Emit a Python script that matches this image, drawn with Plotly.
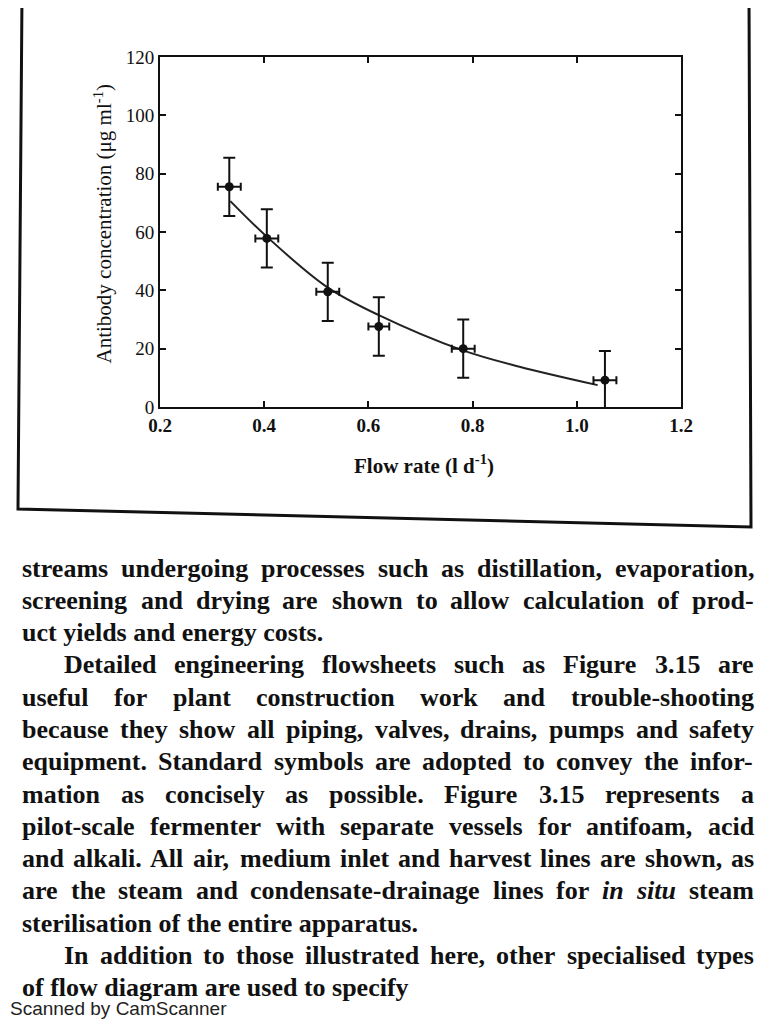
import plotly.graph_objects as go

# ---------------- data ----------------
flow_rate = [0.333, 0.405, 0.522, 0.620, 0.782, 1.054]          # l d-1
antibody = [75.5, 57.8, 39.5, 27.6, 20.0, 9.2]                  # ug ml-1
err_y = [10, 10, 10, 10, 10, 10]
err_x = [0.022, 0.022, 0.022, 0.020, 0.022, 0.022]

fit_x = [0.335, 0.405, 0.52, 0.62, 0.78, 0.89, 1.04]
fit_y = [70.6, 58.4, 41.2, 31.5, 19.5, 13.8, 7.5]

x_ticks = [0.2, 0.4, 0.6, 0.8, 1.0, 1.2]
x_ticktext = ["0.2", "0.4", "0.6", "0.8", "1.0", "1.2"]
y_ticks = [0, 20, 40, 60, 80, 100, 120]

body_lines = [
    "streams undergoing processes such as distillation, evaporation,",
    "screening and drying are shown to allow calculation of prod-",
    "uct yields and energy costs.",
    "Detailed engineering flowsheets such as Figure 3.15 are",
    "useful for plant construction work and trouble-shooting",
    "because they show all piping, valves, drains, pumps and safety",
    "equipment. Standard symbols are adopted to convey the infor-",
    "mation as concisely as possible. Figure 3.15 represents a",
    "pilot-scale fermenter with separate vessels for antifoam, acid",
    "and alkali. All air, medium inlet and harvest lines are shown, as",
    "are the steam and condensate-drainage lines for <i>in</i> <i>situ</i> steam",
    "sterilisation of the entire apparatus.",
    "In addition to those illustrated here, other specialised types",
    "of flow diagram are used to specify",
]
justified = [1, 1, 0, 1, 1, 1, 1, 1, 1, 1, 1, 0, 1, 0]
indented = [0, 0, 0, 1, 0, 0, 0, 0, 0, 0, 0, 0, 1, 0]

# ---------------- layout helpers (window pixel coordinates) ----------------
OFF = 8                                   # page body margin
WIN_W, WIN_H = 768, 1024
FIG_W, FIG_H = WIN_W - OFF, WIN_H - OFF
PL, PR, PT, PB = 160, 681, 57, 407        # plot area in window pixels


def px(xpix):
    return (xpix - PL) / (PR - PL)


def py(ypix):
    return (PB - ypix) / (PB - PT)


# Times-Bold advance widths (1/1000 em)
TW = {' ': 250, ',': 250, '.': 250, '-': 333, '(': 333, ')': 333,
      'a': 500, 'b': 556, 'c': 444, 'd': 556, 'e': 444, 'f': 333, 'g': 500,
      'h': 556, 'i': 278, 'j': 333, 'k': 556, 'l': 278, 'm': 833, 'n': 556,
      'o': 500, 'p': 556, 'q': 556, 'r': 444, 's': 389, 't': 333, 'u': 556,
      'v': 500, 'w': 722, 'x': 500, 'y': 500, 'z': 444,
      'A': 722, 'D': 722, 'F': 611, 'I': 389, 'S': 556}


def text_w(s, fs):
    s = s.replace('<i>', '').replace('</i>', '')
    return sum(TW.get(c, 500) for c in s) * fs / 1000.0


INK = '#111111'
fig = go.Figure()

fig.add_trace(go.Scatter(
    x=fit_x, y=fit_y, mode='lines',
    line=dict(color='#222222', width=2, shape='spline', smoothing=1.0),
    hoverinfo='skip', showlegend=False))

fig.add_trace(go.Scatter(
    x=flow_rate, y=antibody, mode='markers',
    marker=dict(color=INK, size=9, symbol='circle'),
    error_y=dict(type='data', array=err_y, color=INK, thickness=2, width=6),
    error_x=dict(type='data', array=err_x, color=INK, thickness=2, width=4),
    showlegend=False))

axis_common = dict(showgrid=False, zeroline=False, showline=True, linecolor=INK,
                   linewidth=2, mirror='ticks', ticks='inside', ticklen=6,
                   tickwidth=1.5, tickcolor=INK)

fig.update_xaxes(range=[0.2, 1.2], tickvals=x_ticks, ticktext=x_ticktext,
                 tickfont=dict(family='Liberation Serif', size=19, color=INK, weight='bold'),
                 **axis_common)
fig.update_yaxes(range=[0, 120], tickvals=y_ticks,
                 tickfont=dict(family='Liberation Serif', size=19, color=INK),
                 **axis_common)

annotations = []
annotations.append(dict(x=px(424), y=py(480), xref='paper', yref='paper',
                        text='Flow rate (l d<sup>-1</sup>)', showarrow=False,
                        font=dict(family='Liberation Serif', size=21, color=INK, weight='bold')))
annotations.append(dict(x=px(88), y=py(224), xref='paper', yref='paper',
                        text='Antibody concentration (\u03bcg ml<sup>-1</sup>)', showarrow=False,
                        textangle=-90,
                        font=dict(family='Liberation Serif', size=21, color=INK)))

# body text (justified like the printed page)
FS = 26
LEFT, RIGHT, INDENT = 20, 752, 62
Y0, DY = 568, 32.3
for k, line in enumerate(body_lines):
    ypix = Y0 + k * DY
    x0 = INDENT if indented[k] else LEFT
    fs = FS
    font = dict(family='Liberation Serif', size=fs, color=INK, weight='bold')
    if justified[k]:
        words = line.split(' ')
        widths = [text_w(w, fs) for w in words]
        gap = (RIGHT - x0 - sum(widths)) / (len(words) - 1)
        while gap < 4 and fs > 18:
            fs -= 1
            widths = [text_w(w, fs) for w in words]
            gap = (RIGHT - x0 - sum(widths)) / (len(words) - 1)
        font = dict(family='Liberation Serif', size=fs, color=INK, weight='bold')
        xc = x0
        for w, wd in zip(words, widths):
            annotations.append(dict(x=px(xc), y=py(ypix), xref='paper', yref='paper',
                                    text=w, showarrow=False, xanchor='left',
                                    yanchor='middle', font=font))
            xc += wd + gap
    else:
        annotations.append(dict(x=px(x0), y=py(ypix), xref='paper', yref='paper',
                                text=line, showarrow=False, xanchor='left',
                                yanchor='middle', font=font))

annotations.append(dict(x=px(8), y=py(1008), xref='paper', yref='paper',
                        text='Scanned by CamScanner', showarrow=False, xanchor='left',
                        yanchor='middle',
                        font=dict(family='Liberation Sans', size=19, color='#222222')))

# frame around the figure
frame = "M {},{} L {},{} L {},{} L {},{}".format(
    px(22), py(-5), px(18), py(509), px(751), py(527), px(749), py(-5))
shapes = [dict(type='path', path=frame, xref='paper', yref='paper',
               line=dict(color=INK, width=3))]

fig.update_layout(width=FIG_W, height=FIG_H, autosize=False,
                  margin=dict(l=PL - OFF, r=WIN_W - PR, t=PT - OFF, b=WIN_H - PB, pad=0),
                  paper_bgcolor='white', plot_bgcolor='white',
                  annotations=annotations, shapes=shapes)

fig.write_html("out.html")
